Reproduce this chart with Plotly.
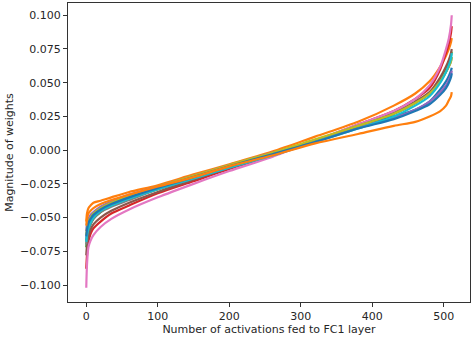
import plotly.graph_objects as go

# Sample positions along the sorted activation index
x_idx = [0, 1, 3, 6, 10, 20, 35, 60, 100, 150, 200, 260, 320, 380, 430, 460, 480, 495, 503, 507, 510, 511]

s_blue = [-0.067, -0.061, -0.056, -0.052, -0.049, -0.044, -0.040, -0.035, -0.028, -0.020, -0.012, -0.003, 0.007, 0.017, 0.025, 0.030, 0.036, 0.045, 0.051, 0.055, 0.059, 0.061]
s_orange = [-0.053, -0.047, -0.043, -0.041, -0.039, -0.0375, -0.035, -0.031, -0.026, -0.018, -0.0105, -0.001, 0.010, 0.021, 0.033, 0.042, 0.051, 0.062, 0.070, 0.075, 0.080, 0.083]
s_green = [-0.072, -0.066, -0.060, -0.055, -0.051, -0.046, -0.041, -0.036, -0.029, -0.021, -0.013, -0.004, 0.007, 0.018, 0.027, 0.035, 0.042, 0.052, 0.060, 0.065, 0.070, 0.073]
s_red = [-0.088, -0.078, -0.068, -0.062, -0.058, -0.053, -0.047, -0.041, -0.032, -0.023, -0.014, -0.004, 0.007, 0.019, 0.029, 0.038, 0.046, 0.060, 0.072, 0.079, 0.087, 0.092]
s_purple = [-0.060, -0.055, -0.051, -0.048, -0.046, -0.042, -0.038, -0.033, -0.027, -0.019, -0.011, -0.002, 0.007, 0.017, 0.024, 0.030, 0.036, 0.043, 0.048, 0.052, 0.056, 0.059]
s_brown = [-0.078, -0.071, -0.064, -0.059, -0.055, -0.050, -0.045, -0.039, -0.031, -0.022, -0.013, -0.004, 0.007, 0.018, 0.028, 0.036, 0.043, 0.054, 0.062, 0.067, 0.072, 0.075]
s_pink = [-0.102, -0.085, -0.072, -0.067, -0.063, -0.057, -0.051, -0.044, -0.035, -0.025, -0.0155, -0.005, 0.007, 0.019, 0.029, 0.038, 0.048, 0.062, 0.075, 0.083, 0.093, 0.100]
s_gray = [-0.070, -0.064, -0.059, -0.055, -0.051, -0.046, -0.042, -0.037, -0.029, -0.021, -0.012, -0.003, 0.007, 0.018, 0.027, 0.035, 0.042, 0.051, 0.058, 0.062, 0.066, 0.069]
s_olive = [-0.063, -0.058, -0.053, -0.050, -0.047, -0.043, -0.039, -0.034, -0.027, -0.019, -0.011, -0.002, 0.008, 0.018, 0.027, 0.035, 0.042, 0.051, 0.058, 0.062, 0.066, 0.069]
s_cyan = [-0.068, -0.063, -0.058, -0.054, -0.050, -0.045, -0.041, -0.036, -0.029, -0.021, -0.013, -0.004, 0.006, 0.016, 0.025, 0.033, 0.040, 0.050, 0.058, 0.063, 0.068, 0.072]
s_blue2 = [-0.064, -0.059, -0.054, -0.051, -0.048, -0.044, -0.040, -0.035, -0.028, -0.020, -0.012, -0.003, 0.006, 0.016, 0.023, 0.029, 0.034, 0.041, 0.046, 0.050, 0.054, 0.057]
s_orange2 = [-0.056, -0.051, -0.047, -0.045, -0.043, -0.040, -0.037, -0.033, -0.027, -0.020, -0.012, -0.004, 0.005, 0.012, 0.018, 0.021, 0.025, 0.029, 0.033, 0.037, 0.040, 0.043]

series = [s_blue, s_orange, s_green, s_red, s_purple, s_brown, s_pink, s_gray, s_olive, s_cyan, s_blue2, s_orange2]
colors = ["#1f77b4", "#ff7f0e", "#2ca02c", "#d62728", "#9467bd", "#8c564b",
          "#e377c2", "#7f7f7f", "#bcbd22", "#17becf", "#1f77b4", "#ff7f0e"]

x_title = "Number of activations fed to FC1 layer"
y_title = "Magnitude of weights"
y_ticks = [-0.100, -0.075, -0.050, -0.025, 0.000, 0.025, 0.050, 0.075, 0.100]
x_ticks = [0, 100, 200, 300, 400, 500]

fig = go.Figure()
for ys, c in zip(series, colors):
    fig.add_trace(go.Scatter(x=x_idx, y=ys, mode="lines",
                             line=dict(color=c, width=2.2, shape="spline", smoothing=0.8),
                             showlegend=False, hoverinfo="skip"))

axis_common = dict(showgrid=False, zeroline=False, showline=True, linecolor="#333333",
                   linewidth=1, mirror=True, ticks="outside", ticklen=4, tickwidth=1,
                   tickcolor="#333333", tickfont=dict(family="DejaVu Sans", size=11, color="#262626"))

fig.update_layout(
    width=474, height=339,
    margin=dict(l=68, r=4, t=3, b=37),
    paper_bgcolor="white", plot_bgcolor="white",
    font=dict(family="DejaVu Sans", size=11, color="#262626"),
    xaxis=dict(range=[-25.55, 536.55], tickvals=x_ticks,
               title=dict(text=x_title, standoff=2, font=dict(size=11)), **axis_common),
    yaxis=dict(range=[-0.1126, 0.1091], tickvals=y_ticks, tickformat=".3f",
               title=dict(text=y_title, standoff=4, font=dict(size=11)), **axis_common),
)

fig.write_html("out.html")
